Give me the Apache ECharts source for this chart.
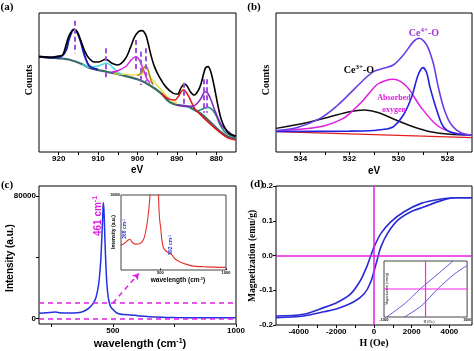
<!DOCTYPE html>
<html><head><meta charset="utf-8">
<script src="https://cdn.jsdelivr.net/npm/echarts/dist/echarts.min.js"></script>
<style>html,body{margin:0;padding:0;background:#fff}#c{width:474px;height:351px}</style>
</head><body><div id="c"></div>
<script>
// ---------- Panel (a): Ce 3d XPS ----------
const aTicks = [920,915,910,905,900,895,890,885,880];
const aLabels = [920,910,900,890,880];
const aEnvelope = [[925,68.6],[922,68.1],[920,69],[919,69.8],[918.5,73.4],[917.5,82.9],[916.5,87.8],[916,88.3],[915.3,86.5],[914.5,81],[913.5,73.4],[912.5,68.1],[911,64.7],[910,64.7],[908,66.7],[906.5,63.8],[905,62.6],[903,67.4],[901.7,75.8],[900.8,82.5],[899.8,86.5],[898.8,87.3],[897.9,84.2],[897.3,78.2],[896.6,69.8],[895.7,61.4],[894.4,53.7],[892.7,46.5],[890.9,42.2],[889.8,41.7],[888.9,46.5],[888.1,48.9],[887.4,47.5],[886.6,43.4],[885.6,41],[884.5,44.6],[883.8,49.9],[882.8,60.2],[882.1,61.4],[881.4,57.8],[880.6,48.2],[879.7,35],[878.7,23],[877.4,15.3],[876.2,12.4],[875,11.5]];
const aBackground = [[925,68.6],[920,67.4],[917,66.2],[914,63.1],[912,60.2],[908,57.8],[904,55.4],[900,52.3],[897,48.2],[894,42.2],[892,36.2],[890,33.8],[887,32.6],[884,27.8],[881,20.1],[879,14.6],[877,11],[875,9.9]];
const aBlue = [[925,68.6],[921,67.8],[919,69.5],[918,74],[917.5,80],[916.5,87.3],[916,88],[915.3,86],[914.5,80],[913.5,70],[912.5,63],[911.5,60.5],[910,59.3]];
const aCyan = [[914,63.1],[912,61],[910,61.8],[909,63],[908,63.8],[907,62.8],[906,60],[905,57.5],[904,55.6]];
const aMagenta = [[906.5,57.5],[905,58.5],[903,61.5],[901.5,66.5],[900.5,68.6],[899.8,67.5],[899,63],[898.2,57],[897.5,52],[896.8,49.5]];
const aYellow = [[906,56.2],[903,55.8],[901,55.5],[900,55.5],[899,56],[898.5,57],[897.5,56],[896.5,53],[895,48],[893.5,43],[892,38.5],[890,35]];
const aOlive = [[900,55],[899,57],[898.5,60],[898,61.9],[897.5,60.5],[897,56],[896.5,51],[896,48.5]];
const aRed = [[894,42.2],[892,38],[890.5,37.5],[889.5,40.5],[888.8,43.8],[888.3,44.8],[887.7,43.2],[887,40],[886,34],[885.3,30.5],[883,24],[880.5,17.5],[879,14],[877,10],[875,8.6]];
const aPurple = [[890,34],[888,33],[886,33],[885,34.5],[884,38],[883.3,42],[882.8,43.4],[882.2,42.5],[881.5,38.5],[880.4,30.2],[878.7,19.4],[876.2,12.9],[875,11.3]];
const aTeal = [[887,32.6],[885,29.5],[884,30.3],[883,31.5],[882.2,32.2],[881,30.5],[880,26],[879.3,21],[878,15],[876.5,12],[875,11]];
const aMarkerX = [916,908,900.5,899.3,898,888.3,883.2,882.4];
const aMarkerTop = [94.5,74.6,80.6,72.2,74.6,49.9,52.3,52.3];
const aMarkerBottom = [71,51.8,57.8,48.2,50.6,32.2,28.3,28.3];

// ---------- Panel (b): O 1s XPS ----------
const bTicks = [534,533,532,531,530,529,528];
const bLabels = [534,532,530,528];
const bEnvelope = [[535,15.3],[534.16,17.5],[533.2,24.2],[532.52,33.1],[531.98,42.2],[531.43,51.8],[531.02,57.8],[530.62,60.2],[530.21,62.6],[529.8,69.8],[529.39,79.4],[529.15,81.8],[528.85,77],[528.58,63.8],[528.38,47],[528.17,32.6],[527.9,21.1],[527.63,15.8],[527.3,13],[527,12.2]];
const bCe4 = [[535,14.8],[532,15],[531,15.5],[530.5,16.5],[530.2,18.2],[529.8,26.6],[529.46,39.8],[529.2,55.4],[529.0,60.7],[528.85,57],[528.72,47],[528.44,30.2],[528.17,18.2],[527.8,13.9],[527,12.2]];
const bAbsorbed = [[535,15.3],[533.2,18.2],[532.25,24.2],[531.84,30.2],[531.43,37.4],[530.9,48.2],[530.55,51.3],[530.2,52.3],[529.66,47],[529.1,32.6],[528.44,19.4],[527.77,13.9],[527,12.2]];
const bCe3 = [[535,17],[534,20.1],[532.8,25.4],[532,29],[531.4,30.2],[530.8,28.3],[530.1,23],[529.4,18.2],[528.7,14.6],[527.9,12.7],[527,12.2]];
const bBackground = [[535,14.6],[527,10.3]];

// ---------- Panel (c): Raman ----------
const cTicks = [250,500,750,1000];
const cLabels = [500,1000];
const cYTicks = [0,40000,80000];
const cYLabels = [0,80000];
const cSpectrum = [[200,3300],[230,3600],[255,4000],[268,4100],[285,3700],[310,3450],[340,3500],[370,4000],[390,5300],[405,7000],[420,9800],[432,14000],[442,22000],[450,36000],[455,52000],[459,68000],[461,75500],[464,70000],[468,50000],[473,30000],[478,18000],[485,10500],[493,7000],[503,5500],[510,4200],[523,3000],[545,2500],[570,2250],[592,1950],[610,1500],[650,1080],[700,750],[752,520],[850,420],[1000,350]];
const cZoomLevels = [0,10000];
const cArrow = [[500,10000],[605,29300]];
const cInsetLabels = [500,1000];
const cInsetYLabels = [10000];

// ---------- Panel (d): M-H loop ----------
const dXTicks = [-4000,-3000,-2000,-1000,0,1000,2000,3000,4000];
const dXLabels = [-4000,-2000,0,2000,4000];
const dYLabels = [-0.2,-0.1,0,0.1,0.2];
const dUpper = [[5200,0.166],[4280,0.166],[3400,0.161],[2500,0.150],[1600,0.126],[890,0.097],[360,0.063],[0,0.024],[-180,-0.002],[-360,-0.029],[-720,-0.072],[-1250,-0.111],[-1960,-0.135],[-2670,-0.150],[-3740,-0.169],[-5200,-0.174]];
const dLower = [[-5200,-0.179],[-3740,-0.174],[-2670,-0.162],[-1960,-0.153],[-1070,-0.133],[-530,-0.111],[-180,-0.077],[180,-0.010],[360,0.024],[710,0.063],[1250,0.101],[1960,0.126],[2670,0.140],[3400,0.155],[4280,0.166],[5200,0.166]];
const dInsetUpper = [[-936,-0.05],[-500,-0.026],[-130,0],[300,0.027],[660,0.05]];
const dInsetLower = [[-508,-0.05],[-100,-0.03],[290,0],[700,0.027],[1000,0.042]];
const dInsetLabels = [-1000,1000];
const dInsetZeroH = [[-1000,0],[1000,0]];
const dInsetZeroV = [[0,-0.05],[0,0.05]];

const SANS = '"Liberation Sans", Arial, sans-serif';
const SERIF = '"Liberation Serif", "Times New Roman", serif';
const plain = v => String(v);

function xAx(gi, min, max, ticks, labels, o) {
  o = o || {};
  return {
    gridIndex: gi, type: 'value', min: min, max: max, inverse: !!o.inverse,
    axisLine: {show: false, onZero: false},
    splitLine: {show: false},
    axisPointer: {show: false},
    axisTick: {show: !!ticks, inside: !!o.inside, length: o.tl || 3, customValues: ticks || [], lineStyle: {color: '#000', width: 1}},
    axisLabel: {show: !!labels, customValues: labels || [], color: '#000', fontFamily: SANS, fontWeight: 'bold', fontSize: o.fs || 8, margin: o.m || 3, formatter: o.fmt || plain}
  };
}
const yAx = xAx;
function ln(gi, data, color, width, extra) {
  return Object.assign({
    type: 'line', xAxisIndex: gi, yAxisIndex: gi, data: data, showSymbol: false, symbol: 'none',
    smooth: 0.3, silent: true, lineStyle: {color: color, width: width}
  }, extra || {});
}
function gtext(x, y, text, font, color, rot, rich) {
  const st = {text: text, font: font, fill: color, align: 'center', verticalAlign: 'middle', textAlign: 'center', textVerticalAlign: 'middle'};
  if (rich) st.rich = rich;
  return {type: 'text', x: x, y: y, rotation: rot || 0, style: st, silent: true, z: 100};
}
function supRich(size, family, color) {
  return {
    n: {fontSize: size, fontFamily: family, fontWeight: 'bold', color: color},
    s: {fontSize: Math.round(size * 0.65), fontFamily: family, fontWeight: 'bold', color: color, verticalAlign: 'top', padding: [0, 0, Math.round(size*0.45), 0]}
  };
}

const gridBase = {show: true, borderColor: '#000', borderWidth: 1, backgroundColor: 'transparent'};
const option = {
  animation: false,
  backgroundColor: '#fff',
  grid: [
    Object.assign({left: 39, top: 13, width: 197, height: 139}, gridBase),
    Object.assign({left: 276, top: 13, width: 196, height: 139}, gridBase),
    Object.assign({left: 39, top: 186, width: 197, height: 138}, gridBase),
    Object.assign({left: 276, top: 186, width: 196, height: 139}, gridBase),
    {left: 121, top: 195, width: 105, height: 75, show: true, borderColor: '#444', borderWidth: 1, backgroundColor: '#fff'},
    {left: 384, top: 261, width: 85, height: 56, show: true, borderColor: '#444', borderWidth: 1, backgroundColor: '#fff'}
  ],
  xAxis: [
    xAx(0, 875, 925, aTicks, aLabels, {inverse: true}),
    xAx(1, 527, 535, bTicks, bLabels, {inverse: true}),
    xAx(2, 200, 1000, cTicks, cLabels),
    xAx(3, -5200, 5200, dXTicks, dXLabels),
    xAx(4, 200, 1000, [500,1000], cInsetLabels, {fs: 4, m: 1, tl: 1.5, inside: true}),
    xAx(5, -1000, 1000, null, dInsetLabels, {fs: 3.5, m: 1})
  ],
  yAxis: [
    yAx(0, 0, 100, null, null),
    yAx(1, 0, 100, null, null),
    yAx(2, -3700, 86500, cYTicks, cYLabels),
    yAx(3, -0.2, 0.2, dYLabels, dYLabels, {fmt: v => v.toFixed(1)}),
    yAx(4, 0, 10000, null, cInsetYLabels, {fs: 3.5, m: 1}),
    yAx(5, -0.05, 0.05, null, null)
  ],
  series: [
    // (a)
    ln(0, aBackground, '#3d6b6b', 2.2),
    ln(0, aYellow, '#e6dc2a', 1.3),
    ln(0, aCyan, '#40dce6', 1.5),
    ln(0, aTeal, '#21857f', 1.5),
    ln(0, aRed, '#e3141a', 1.5),
    ln(0, aPurple, '#8a1fc4', 1.5),
    ln(0, aMagenta, '#e21ee0', 1.5),
    ln(0, aOlive, '#a08a12', 1.5),
    ln(0, aBlue, '#1c1cb4', 2),
    ln(0, aEnvelope, '#000', 1.6, {
      markLine: {
        silent: true, symbol: 'none', animation: false, label: {show: false},
        lineStyle: {type: [5, 3], color: '#a050e0', width: 2},
        data: aMarkerX.map((x, i) => [{coord: [x, aMarkerTop[i]]}, {coord: [x, aMarkerBottom[i]]}])
      }
    }),
    // (b)
    ln(1, bBackground, '#e3201e', 1.3, {smooth: false}),
    ln(1, bCe3, '#111', 1.5),
    ln(1, bAbsorbed, '#e01ee0', 1.5),
    ln(1, bCe4, '#2222e0', 1.6),
    ln(1, bEnvelope, '#6a3ee6', 1.6),
    // (c)
    ln(2, cSpectrum, '#2233e0', 1.5, {
      z: 3,
      markLine: {
        silent: true, symbol: 'none', animation: false, label: {show: false},
        lineStyle: {type: [5, 4], color: '#e01ee6', width: 1.5},
        data: cZoomLevels.map(v => ({yAxis: v})).concat([[
          {coord: cArrow[0], symbol: 'none'},
          {coord: cArrow[1], symbol: 'arrow', symbolSize: 6}
        ]])
      }
    }),
    ln(4, cSpectrum, '#e3302e', 1.1),
    // (d)
    ln(3, dUpper, '#2a2ad6', 1.6, {
      markLine: {
        silent: true, symbol: 'none', animation: false, label: {show: false},
        lineStyle: {type: 'solid', color: '#e01ee6', width: 1.5},
        data: [{xAxis: 0}, {yAxis: 0}]
      }
    }),
    ln(3, dLower, '#2a2ad6', 1.6),
    ln(5, dInsetZeroH, '#ff22ee', 1.2, {smooth: false, z: 4}),
    ln(5, dInsetZeroV, '#ff22ee', 1.2, {smooth: false, z: 4}),
    ln(5, dInsetUpper, '#4848e0', 0.9),
    ln(5, dInsetLower, '#4848e0', 0.9)
  ],
  graphic: [
    gtext(7, 7, '(a)', 'bold 11px ' + SERIF, '#000'),
    gtext(254, 7, '(b)', 'bold 11px ' + SERIF, '#000'),
    gtext(7, 185, '(c)', 'bold 11px ' + SERIF, '#000'),
    gtext(257, 184, '(d)', 'bold 11px ' + SERIF, '#000'),
    gtext(29, 80, 'Counts', 'bold 10px ' + SERIF, '#000', Math.PI / 2),
    gtext(266, 80, 'Counts', 'bold 10px ' + SERIF, '#000', Math.PI / 2),
    gtext(137, 170, 'eV', 'bold 10px ' + SANS, '#000'),
    gtext(374, 171, 'eV', 'bold 10px ' + SANS, '#000'),
    gtext(359, 70, '{n|Ce}{s|3+}{n|-O}', 'bold 10px ' + SERIF, '#000', 0, supRich(10, SERIF, '#000')),
    gtext(424, 33, '{n|Ce}{s|4+}{n|-O}', 'bold 10px ' + SERIF, '#a232dc', 0, supRich(10, SERIF, '#a232dc')),
    gtext(394, 98, 'Absorbed', 'bold 8px ' + SERIF, '#e01ee0'),
    gtext(394, 110, 'oxygen', 'bold 8px ' + SERIF, '#e01ee0'),
    gtext(98, 216, '{n|461 cm}{s|-1}', 'bold 10px ' + SANS, '#e01ee6', Math.PI / 2, supRich(10, SANS, '#e01ee6')),
    gtext(10, 258, 'Intensity (a.u.)', 'bold 10px ' + SANS, '#000', Math.PI / 2),
    gtext(140, 344, '{n|wavelength (cm}{s|-1}{n|)}', 'bold 11px ' + SANS, '#000', 0, supRich(11, SANS, '#000')),
    gtext(125, 229, '{n|268 cm}{s|-1}', 'bold 5px ' + SANS, '#2a3ad8', Math.PI / 2, supRich(5, SANS, '#2a3ad8')),
    gtext(171, 245, '{n|592 cm}{s|-1}', 'bold 5px ' + SANS, '#2a3ad8', Math.PI / 2, supRich(5, SANS, '#2a3ad8')),
    gtext(114, 232, 'Intensity (a.u.)', 'bold 5px ' + SANS, '#000', Math.PI / 2),
    gtext(178, 280, '{n|wavelength (cm}{s|-1}{n|)}', 'bold 6.5px ' + SANS, '#000', 0, supRich(6.5, SANS, '#000')),
    gtext(253, 256, 'Magnetization (emu/g)', 'bold 9.5px ' + SERIF, '#000', Math.PI / 2),
    gtext(374, 343, 'H (Oe)', 'bold 10px ' + SERIF, '#000'),
    gtext(429, 322, 'H (Oe)', '4px ' + SERIF, '#000'),
    gtext(387, 289, 'Magnetization (emu/g)', '3.5px ' + SERIF, '#000', Math.PI / 2)
  ]
};
const chart = echarts.init(document.getElementById('c'), null, {renderer: 'canvas'});
chart.setOption(option);
</script></body></html>
